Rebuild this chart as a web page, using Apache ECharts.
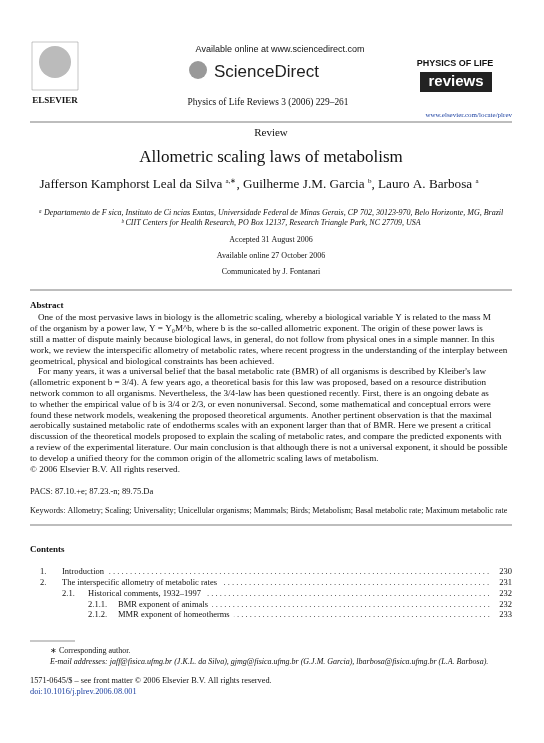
<!DOCTYPE html>
<html><head><meta charset="utf-8">
<script src="https://cdn.jsdelivr.net/npm/echarts@6/dist/echarts.min.js"></script>
<style>html,body{margin:0;padding:0;background:#fff}#c{width:544px;height:743px}</style>
</head><body><div id="c"></div>
<script>
const abstractLines = [
"One of the most pervasive laws in biology is the allometric scaling, whereby a biological variable Y is related to the mass M",
"of the organism by a power law, Y = Y₀M^b, where b is the so-called allometric exponent. The origin of these power laws is",
"still a matter of dispute mainly because biological laws, in general, do not follow from physical ones in a simple manner. In this",
"work, we review the interspecific allometry of metabolic rates, where recent progress in the understanding of the interplay between",
"geometrical, physical and biological constraints has been achieved.",
"For many years, it was a universal belief that the basal metabolic rate (BMR) of all organisms is described by Kleiber's law",
"(allometric exponent b = 3/4). A few years ago, a theoretical basis for this law was proposed, based on a resource distribution",
"network common to all organisms. Nevertheless, the 3/4-law has been questioned recently. First, there is an ongoing debate as",
"to whether the empirical value of b is 3/4 or 2/3, or even nonuniversal. Second, some mathematical and conceptual errors were",
"found these network models, weakening the proposed theoretical arguments. Another pertinent observation is that the maximal",
"aerobically sustained metabolic rate of endotherms scales with an exponent larger than that of BMR. Here we present a critical",
"discussion of the theoretical models proposed to explain the scaling of metabolic rates, and compare the predicted exponents with",
"a review of the experimental literature. Our main conclusion is that although there is not a universal exponent, it should be possible",
"to develop a unified theory for the common origin of the allometric scaling laws of metabolism.",
"© 2006 Elsevier B.V. All rights reserved."
];
const indentedLines = [0, 5];
const contentsNums = ["1.", "2.", "2.1.", "2.1.1.", "2.1.2."];
const contentsTitles = ["Introduction", "The interspecific allometry of metabolic rates", "Historical comments, 1932–1997", "BMR exponent of animals", "MMR exponent of homeotherms"];
const contentsPages = ["230", "231", "232", "232", "233"];
const contentsLevels = [0, 0, 1, 2, 2];

const F = 'Liberation Serif, Times New Roman, serif';
const g = [];
function t(x, y, text, o) {
  o = o || {};
  g.push({type:'text', x:x, y:y, z:o.z||1, style:Object.assign({text:text, fill:o.fill||'#111', font:(o.style||'')+' '+(o.w||'normal')+' '+(o.s||8)+'px '+F, textAlign:o.a||'left', textVerticalAlign:'middle'}, o.extra||{})});
}
function line(x1,y1,x2,y2,w){ g.push({type:'line', shape:{x1:x1,y1:y1,x2:x2,y2:y2}, style:{stroke:'#222', lineWidth:w||0.6}}); }

g.push({type:'rect', shape:{x:32,y:42,width:46,height:48}, style:{fill:'#fff', stroke:'#888', lineWidth:0.5}});
g.push({type:'circle', shape:{cx:55,cy:62,r:16}, style:{fill:'#bbb'}});
t(55, 101, 'ELSEVIER', {s:9, a:'center', w:'bold'});
t(280, 50, 'Available online at www.sciencedirect.com', {a:'center', extra:{font:'9px Liberation Sans, Arial, sans-serif'}});
g.push({type:'circle', shape:{cx:198,cy:70,r:9}, style:{fill:'#999'}});
t(214, 72, 'ScienceDirect', {extra:{font:'17px Liberation Sans, Arial, sans-serif', fill:'#222'}});
t(268, 103, 'Physics of Life Reviews 3 (2006) 229–261', {s:9.4, a:'center'});
t(455, 64, 'PHYSICS OF LIFE', {a:'center', extra:{font:'bold 9px Liberation Sans, Arial, sans-serif'}});
g.push({type:'rect', shape:{x:420,y:72,width:72,height:20}, style:{fill:'#222'}});
t(456, 82, 'reviews', {a:'center', extra:{font:'bold 15px Liberation Sans, Arial, sans-serif', fill:'#fff'}});
t(512, 115, 'www.elsevier.com/locate/plrev', {s:7, a:'right', fill:'#1a3fa0'});
line(30, 122, 512, 122, 0.6);
t(271, 133, 'Review', {s:11, a:'center'});
t(271, 158, 'Allometric scaling laws of metabolism', {s:17, a:'center'});
g.push({type:'text', x:259, y:185, style:{text:'Jafferson Kamphorst Leal da Silva {sup|a,∗}, Guilherme J.M. Garcia {sup|b}, Lauro A. Barbosa {sup|a}', font:'13.2px '+F, fill:'#111', textAlign:'center', textVerticalAlign:'middle', rich:{sup:{fontSize:7, verticalAlign:'top', padding:[0,0,7,0], fontFamily:F}}}});
t(271, 213, 'ᵃ Departamento de F sica, Instituto de Ci ncias Exatas, Universidade Federal de Minas Gerais, CP 702, 30123-970, Belo Horizonte, MG, Brazil', {s:8, a:'center', style:'italic'});
t(271, 223, 'ᵇ CIIT Centers for Health Research, PO Box 12137, Research Triangle Park, NC 27709, USA', {s:8, a:'center', style:'italic'});
t(271, 240, 'Accepted 31 August 2006', {s:8, a:'center'});
t(271, 256, 'Available online 27 October 2006', {s:8, a:'center'});
t(271, 272, 'Communicated by J. Fontanari', {s:8, a:'center'});
line(30, 290, 512, 290, 0.6);
t(30, 306, 'Abstract', {s:9, w:'bold'});
abstractLines.forEach(function(l, i){ t(indentedLines.indexOf(i)>=0?38:30, 318 + i*10.8, l, {s:9.1}); });
t(30, 492, 'PACS: 87.10.+e; 87.23.-n; 89.75.Da', {s:8.5});
t(30, 511, 'Keywords: Allometry; Scaling; Universality; Unicellular organisms; Mammals; Birds; Metabolism; Basal metabolic rate; Maximum metabolic rate', {s:8.1});
line(30, 525, 512, 525, 0.6);
t(30, 550, 'Contents', {s:9, w:'bold'});
const numX = [40, 62, 88], titleX = [62, 88, 118];
contentsTitles.forEach(function(title, i){
  const y = 572 + i*10.8, lv = contentsLevels[i];
  t(numX[lv], y, contentsNums[i], {s:8.5});
  t(titleX[lv], y, '. . . . . . . . . . . . . . . . . . . . . . . . . . . . . . . . . . . . . . . . . . . . . . . . . . . . . . . . . . . . . . . . . . . . . . . . . . . . . . . . . . . . . . . . . . . . . . . . . . . . . . .', {s:8.5, extra:{width:492-titleX[lv], overflow:'truncate', ellipsis:''}});
  t(titleX[lv], y, title + '  ', {s:8.5, z:2, extra:{backgroundColor:'#fff'}});
  t(512, y, contentsPages[i], {s:8.5, a:'right', z:2, extra:{backgroundColor:'#fff'}});
});
line(30, 641, 75, 641, 0.5);
t(50, 651, '∗ Corresponding author.', {s:8});
t(50, 662, 'E-mail addresses: jaff@fisica.ufmg.br (J.K.L. da Silva), gjmg@fisica.ufmg.br (G.J.M. Garcia), lbarbosa@fisica.ufmg.br (L.A. Barbosa).', {s:8, style:'italic'});
t(30, 681, '1571-0645/$ – see front matter © 2006 Elsevier B.V. All rights reserved.', {s:8.3});
t(30, 692, 'doi:10.1016/j.plrev.2006.08.001', {s:8.3, fill:'#1a3fa0'});

const chart = echarts.init(document.getElementById('c'));
chart.setOption({backgroundColor:'#fff', animation:false, graphic:g});
</script></body></html>
